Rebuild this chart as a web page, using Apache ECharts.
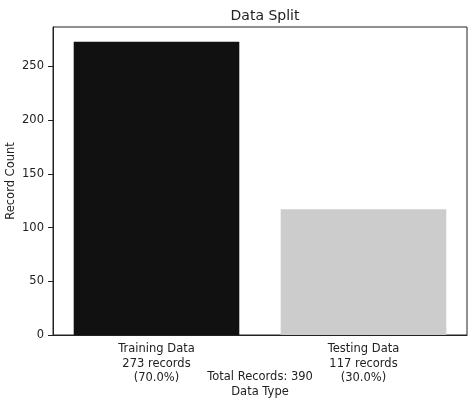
<!DOCTYPE html>
<html>
<head>
<meta charset="utf-8">
<script src="https://cdn.jsdelivr.net/npm/echarts@6/dist/echarts.min.js"></script>
<style>
  html, body { margin: 0; padding: 0; background: #fff; }
  #chart { width: 474px; height: 406px; }
</style>
</head>
<body>
<div id="chart"></div>
<script>
var categories = ["Training Data", "Testing Data"];
var counts = [273, 117];
var percents = ["70.0%", "30.0%"];
var barColors = ["#111111", "#cccccc"];
var yTicks = [0, 50, 100, 150, 200, 250];

var total = counts.reduce(function (a, b) { return a + b; }, 0);

var xLabels = categories.map(function (c, i) {
  return c + "\n" + counts[i] + " records\n(" + percents[i] + ")";
});

var barData = counts.map(function (v, i) {
  return { value: v, itemStyle: { color: barColors[i] } };
});

var font = "DejaVu Sans";
var textColor = "#222";

var myChart = echarts.init(document.getElementById("chart"));

var option = {
  backgroundColor: "#fff",
  animation: false,
  title: {
    text: "Data Split",
    left: 260,
    textAlign: "center",
    top: 4,
    textStyle: { fontFamily: font, fontSize: 14, fontWeight: "normal", color: textColor },
  },
  grid: {
    left: 53,
    top: 27,
    width: 414,
    height: 308,
    outerBoundsMode: "none",
    containLabel: false,
    show: true,
    borderColor: "#222",
    borderWidth: 1,
    backgroundColor: "transparent",
  },
  xAxis: {
    type: "category",
    data: xLabels,
    name: "Total Records: " + total + "\nData Type",
    nameLocation: "middle",
    nameGap: 35,
    nameMoveOverlap: false,
    nameTextStyle: { fontFamily: font, fontSize: 11.5, color: textColor, lineHeight: 14.5 },
    axisLine: { lineStyle: { color: "#222" } },
    axisTick: { alignWithLabel: true, length: 5, lineStyle: { color: "#222" } },
    axisLabel: {
      margin: 7,
      fontFamily: font,
      fontSize: 11.5,
      lineHeight: 14.5,
      color: textColor,
      interval: 0,
    },
    splitLine: { show: false },
  },
  yAxis: {
    type: "value",
    min: 0,
    max: 286.65,
    name: "Record Count",
    nameLocation: "middle",
    nameGap: 36,
    nameMoveOverlap: false,
    nameTextStyle: { fontFamily: font, fontSize: 11.5, color: textColor },
    axisLine: { show: true, lineStyle: { color: "#222" } },
    axisTick: { show: true, length: 5, lineStyle: { color: "#222" }, customValues: yTicks },
    axisLabel: {
      margin: 9,
      fontFamily: font,
      fontSize: 11.5,
      color: textColor,
      customValues: yTicks,
    },
    splitLine: { show: false },
  },
  series: [
    {
      type: "bar",
      data: barData,
      barCategoryGap: "20%",
    },
  ],
};

myChart.setOption(option);
</script>
</body>
</html>
